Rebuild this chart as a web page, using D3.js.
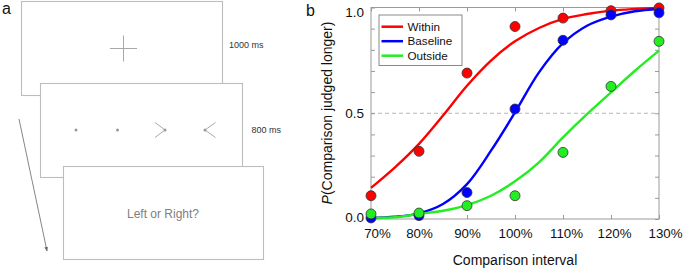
<!DOCTYPE html>
<html><head><meta charset="utf-8">
<script src="https://cdn.jsdelivr.net/npm/d3@7"></script>
<style>
body{margin:0;background:#fff}
svg{display:block;font-family:"Liberation Sans",Arial,sans-serif}
</style>
</head><body>
<svg id="c" width="685" height="268"></svg>
<script>
// ---------- data ----------
const xCategories = [70, 80, 90, 100, 110, 120, 130];
const xTickLabels = ["70%", "80%", "90%", "100%", "110%", "120%", "130%"];
const yMajorTicks = [0, 0.5, 1];
const yTickLabels = ["0.0", "0.5", "1.0"];
const yMinorTicks = [0, 0.1, 0.2, 0.3, 0.4, 0.5, 0.6, 0.7, 0.8, 0.9, 1.0];
const seriesNames = ["Within", "Baseline", "Outside"];
const seriesColors = ["#ff0000", "#0000ff", "#22ee22"];

const withinPoints   = [0.11, 0.32, 0.69, 0.91, 0.95, 0.985, 0.998];
const baselinePoints = [0.005, 0.016, 0.125, 0.52, 0.845, 0.965, 0.975];
const outsidePoints  = [0.024, 0.028, 0.063, 0.11, 0.315, 0.627, 0.84];

const curveX = [70, 75, 80, 85, 90, 95, 100, 105, 110, 115, 120, 125, 130];
const withinCurve   = [0.147, 0.244, 0.355, 0.489, 0.630, 0.749, 0.840, 0.903, 0.946, 0.969, 0.985, 0.993, 0.998];
const baselineCurve = [0.005, 0.011, 0.027, 0.071, 0.165, 0.323, 0.504, 0.693, 0.831, 0.914, 0.957, 0.982, 0.993];
const outsideCurve  = [0.004, 0.008, 0.024, 0.039, 0.066, 0.110, 0.178, 0.268, 0.386, 0.496, 0.599, 0.701, 0.796];

const frameDurations = ["1000 ms", "800 ms"];
const promptText = "Left or Right?";
const panelLabels = ["a", "b"];

// ---------- setup ----------
const svg = d3.select("#c");

// ---------- panel a (schematic) ----------
const pa = svg.append("g");
pa.append("text").attr("x", 2).attr("y", 14).attr("font-size", 16).attr("fill", "#111").text(panelLabels[0]);

const frameStroke = "#bdbdbd";
const screens = [
  {x: 21, y: 1, w: 201, h: 94},
  {x: 40, y: 83, w: 202, h: 94},
  {x: 63, y: 166, w: 200, h: 93}
];
// arrow (behind frames)
const defs = svg.append("defs");
defs.append("marker").attr("id", "ah").attr("viewBox", "0 0 10 10").attr("refX", 9).attr("refY", 5)
  .attr("markerWidth", 5).attr("markerHeight", 5).attr("orient", "auto")
  .append("path").attr("d", "M0,1 L10,5 L0,9 z").attr("fill", "#666");
pa.append("line").attr("x1", 19).attr("y1", 119).attr("x2", 47).attr("y2", 251)
  .attr("stroke", "#777").attr("stroke-width", 0.9).attr("marker-end", "url(#ah)");

screens.forEach(s => {
  pa.append("rect").attr("x", s.x + 0.5).attr("y", s.y + 0.5).attr("width", s.w).attr("height", s.h)
    .attr("fill", "#fff").attr("stroke", frameStroke).attr("stroke-width", 1.1);
});
// fixation cross
const sg = "#a8a8a8";
pa.append("line").attr("x1", 110).attr("x2", 137).attr("y1", 48.5).attr("y2", 48.5).attr("stroke", sg).attr("stroke-width", 1);
pa.append("line").attr("x1", 123.5).attr("x2", 123.5).attr("y1", 35.5).attr("y2", 61.5).attr("stroke", sg).attr("stroke-width", 1);
// stimuli
[76, 117.5].forEach(cx => pa.append("circle").attr("cx", cx).attr("cy", 130).attr("r", 1.5).attr("fill", "#999"));
pa.append("path").attr("d", "M155,122.5 L165,130 L155,137.5").attr("fill", "none").attr("stroke", sg).attr("stroke-width", 1);
pa.append("circle").attr("cx", 165).attr("cy", 130).attr("r", 1.5).attr("fill", "#999");
pa.append("path").attr("d", "M215.5,122.5 L205,130 L215.5,137.5").attr("fill", "none").attr("stroke", sg).attr("stroke-width", 1);
pa.append("circle").attr("cx", 205).attr("cy", 130).attr("r", 1.5).attr("fill", "#999");
// durations
pa.append("text").attr("x", 229).attr("y", 48).attr("font-size", 9).attr("fill", "#333").text(frameDurations[0]);
pa.append("text").attr("x", 251.5).attr("y", 133).attr("font-size", 9).attr("fill", "#333").text(frameDurations[1]);
// prompt
pa.append("text").attr("x", 163).attr("y", 218.2).attr("text-anchor", "middle").attr("font-size", 12)
  .attr("fill", "#808080").text(promptText);

// ---------- panel b (chart) ----------
const L = 371, R = 659, T = 7.5, B = 219;
const x = d3.scaleLinear().domain([70, 130]).range([L, R]);
const y = d3.scaleLinear().domain([0, 1]).range([B, T]);
const axisCol = "#9a9a9a";

svg.append("text").attr("x", 306).attr("y", 15.5).attr("font-size", 16).attr("fill", "#111").text(panelLabels[1]);

// dashed 0.5 line
svg.append("line").attr("x1", L).attr("x2", R).attr("y1", y(0.5)).attr("y2", y(0.5))
  .attr("stroke", "#b5b5b5").attr("stroke-width", 1).attr("stroke-dasharray", "4,3");

function styleAxis(g) {
  g.select(".domain").remove();
  g.selectAll(".tick line").attr("stroke", axisCol);
  g.selectAll("text").attr("fill", "#111").attr("font-family", "Liberation Sans, Arial, sans-serif");
}

// bottom axis
const gx = svg.append("g").attr("transform", `translate(0,${B})`)
  .call(d3.axisBottom(x).tickValues(xCategories).tickSizeInner(-4).tickSizeOuter(0).tickPadding(10)
    .tickFormat((d, i) => xTickLabels[i]));
styleAxis(gx);
gx.selectAll("text").attr("font-size", 13.3)
  .attr("dx", (d, i) => i === 0 ? 6 : (i === xCategories.length - 1 ? 6 : (i === 4 || i === 5 ? 3 : 0)));
// top axis
const gxt = svg.append("g").attr("transform", `translate(0,${T})`)
  .call(d3.axisTop(x).tickValues(xCategories).tickSizeInner(-4).tickSizeOuter(0).tickFormat(""));
styleAxis(gxt);
// left axis (minor ticks) + labels
const gy = svg.append("g").attr("transform", `translate(${L},0)`)
  .call(d3.axisLeft(y).tickValues(yMinorTicks).tickSizeInner(-4).tickSizeOuter(0).tickFormat(""));
styleAxis(gy);
svg.append("g").selectAll("text").data(yMajorTicks).join("text")
  .attr("x", L - 7).attr("y", (d, i) => y(d) + (i === 0 ? -2.3 : (i === 2 ? 4.5 : 0)))
  .attr("dy", "0.36em").attr("text-anchor", "end").attr("font-size", 13.5).attr("fill", "#111")
  .text((d, i) => yTickLabels[i]);
// right axis
const gyr = svg.append("g").attr("transform", `translate(${R},0)`)
  .call(d3.axisRight(y).tickValues(yMinorTicks).tickSizeInner(-4).tickSizeOuter(0).tickFormat(""));
styleAxis(gyr);
// frame
svg.append("rect").attr("x", L).attr("y", T).attr("width", R - L).attr("height", B - T)
  .attr("fill", "none").attr("stroke", axisCol).attr("stroke-width", 1);

// axis titles
svg.append("text").attr("x", 515).attr("y", 264.5).attr("text-anchor", "middle").attr("font-size", 14)
  .attr("fill", "#111").text("Comparison interval");
const yl = svg.append("text").attr("transform", "translate(332,113) rotate(-90)")
  .attr("text-anchor", "middle").attr("font-size", 14).attr("fill", "#111");
yl.append("tspan").attr("font-style", "italic").text("P");
yl.append("tspan").text("(Comparison judged longer)");

// curves
const curves = [withinCurve, baselineCurve, outsideCurve];
const line = d3.line().x((d, i) => x(curveX[i])).y(d => y(d)).curve(d3.curveCatmullRom.alpha(0.5));
curves.forEach((c, k) => {
  svg.append("path").datum(c).attr("d", line).attr("fill", "none")
    .attr("stroke", seriesColors[k]).attr("stroke-width", 2.4);
});
// points
const points = [withinPoints, baselinePoints, outsidePoints];
points.forEach((p, k) => {
  svg.append("g").selectAll("circle").data(p).join("circle")
    .attr("cx", (d, i) => x(xCategories[i])).attr("cy", d => y(d)).attr("r", 5)
    .attr("fill", seriesColors[k]).attr("stroke", "#333").attr("stroke-width", 0.8);
});

// legend
const lg = svg.append("g");
lg.append("rect").attr("x", 379).attr("y", 15).attr("width", 83).attr("height", 50.5)
  .attr("fill", "#fff").attr("stroke", "#8a8a8a").attr("stroke-width", 1);
seriesNames.forEach((n, k) => {
  const ly = 26.7 + k * 14.5;
  lg.append("line").attr("x1", 381.5).attr("x2", 403).attr("y1", ly).attr("y2", ly)
    .attr("stroke", seriesColors[k]).attr("stroke-width", 2.5);
  lg.append("text").attr("x", 407.5).attr("y", ly).attr("dy", "0.36em").attr("font-size", 11.7)
    .attr("fill", "#111").text(n);
});
</script>
</body></html>
